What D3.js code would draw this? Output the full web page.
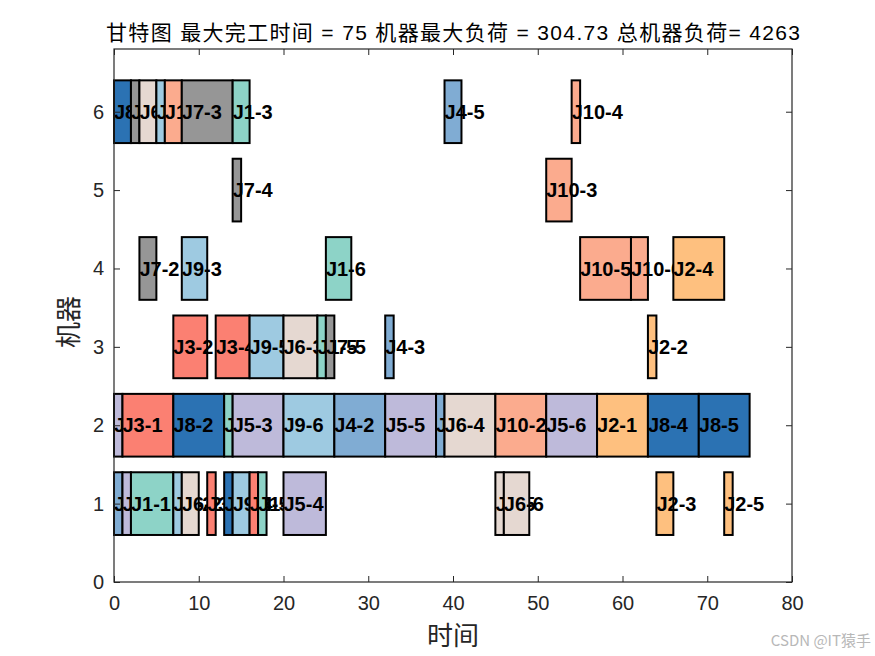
<!DOCTYPE html>
<html>
<head>
<meta charset="utf-8">
<script src="https://cdn.jsdelivr.net/npm/d3@7"></script>
<style>
  body { margin: 0; background: #fff; }
</style>
</head>
<body>
<div id="chart"></div>
<script>
// operations: name, machine, start, end
var opNames = ["J1-1","J1-2","J1-3","J1-4","J1-5","J1-6",
  "J2-1","J2-2","J2-3","J2-4","J2-5",
  "J3-1","J3-2","J3-3","J3-4","J3-5",
  "J4-1","J4-2","J4-3","J4-4","J4-5",
  "J5-1","J5-2","J5-3","J5-4","J5-5","J5-6",
  "J6-1","J6-2","J6-3","J6-4","J6-5","J6-6",
  "J7-1","J7-2","J7-3","J7-4","J7-5",
  "J8-1","J8-2","J8-3","J8-4","J8-5",
  "J9-1","J9-2","J9-3","J9-4","J9-5","J9-6",
  "J10-1","J10-2","J10-3","J10-4","J10-5","J10-6"];
var opMachines = [1,2,6,1,3,4, 2,3,1,4,1, 2,3,1,3,1, 1,2,3,2,6, 2,1,2,1,2,2,
  6,1,3,2,1,1, 6,4,6,5,3, 6,2,1,2,2, 6,1,4,1,3,2, 6,2,5,6,4,4];
var opStarts = [2,13,14,17,24,25, 57,63,64,66,72, 1,7,11,12,16, 0,26,32,38,39,
  0,1,14,20,32,51, 3,8,20,39,45,46, 2,3,8,14,25, 0,7,13,63,69,
  5,7,8,14,16,20, 6,45,51,54,55,61];
var opEnds = [7,14,16,18,25,28, 63,64,66,72,73, 7,11,12,16,17, 1,32,33,39,41,
  1,2,20,25,38,57, 5,10,24,45,46,49, 3,5,14,15,26, 2,13,14,69,75,
  6,8,11,16,20,26, 8,51,54,55,61,63];

var jobColors = ["#8dd3c7","#fec07f","#fb8072","#80acd3","#bebada",
  "#e5d8d1","#969696","#2b72b3","#9ecae1","#fbab8e"];

var xTicks = [0,10,20,30,40,50,60,70,80];
var yTicks = [0,1,2,3,4,5,6];

var titleText = "甘特图 最大完工时间 = 75 机器最大负荷 = 304.73 总机器负荷= 4263";

var svgWidth = 875, svgHeight = 656;
var margin = {top: 49, right: 83, bottom: 74, left: 114};
var width = svgWidth - margin.left - margin.right;
var height = svgHeight - margin.top - margin.bottom;

var svg = d3.select("#chart").append("svg")
  .attr("width", svgWidth)
  .attr("height", svgHeight);

var g = svg.append("g")
  .attr("transform", `translate(${margin.left}, ${margin.top})`);

var x = d3.scaleLinear().domain([0, 80]).range([0, width]);
var y = d3.scaleLinear().domain([0, 6.8]).range([height, 0]);

var ops = opNames.map(function(n, i) {
  return {name: n, job: +n.split("-")[0].slice(1), machine: opMachines[i],
    start: opStarts[i], end: opEnds[i]};
});
ops.sort(function(a, b) { return a.start - b.start; });

var barH = y(0) - y(0.8);
ops.forEach(function(d) {
  g.append("rect")
    .attr("x", x(d.start))
    .attr("y", y(d.machine + 0.4))
    .attr("width", x(d.end) - x(d.start))
    .attr("height", barH)
    .attr("fill", jobColors[d.job - 1])
    .attr("stroke", "#000")
    .attr("stroke-width", 2);
  g.append("text")
    .attr("x", x(d.start))
    .attr("y", y(d.machine))
    .attr("dy", "0.36em")
    .attr("font-family", "'Liberation Sans', Arial, sans-serif")
    .attr("font-weight", "bold")
    .attr("font-size", "20px")
    .attr("fill", "#000")
    .text(d.name);
});

// axes
function styleAxis(sel) {
  sel.select(".domain").remove();
  sel.selectAll("line").attr("stroke", "#262626");
  sel.selectAll("text").attr("fill", "#262626")
    .attr("font-family", "'Liberation Sans', Arial, sans-serif")
    .attr("font-size", "20px");
}

g.append("g").attr("transform", `translate(0, ${height})`)
  .call(d3.axisBottom(x).tickValues(xTicks).tickSizeInner(-6).tickSizeOuter(0).tickPadding(14))
  .call(styleAxis);
g.append("g")
  .call(d3.axisTop(x).tickValues(xTicks).tickSizeInner(-6).tickSizeOuter(0).tickFormat(""))
  .call(styleAxis);
g.append("g")
  .call(d3.axisLeft(y).tickValues(yTicks).tickFormat(d3.format("d")).tickSizeInner(-6).tickSizeOuter(0).tickPadding(10))
  .call(styleAxis);
g.append("g").attr("transform", `translate(${width}, 0)`)
  .call(d3.axisRight(y).tickValues(yTicks).tickSizeInner(-6).tickSizeOuter(0).tickFormat(""))
  .call(styleAxis);

g.append("rect")
  .attr("width", width).attr("height", height)
  .attr("fill", "none").attr("stroke", "#262626").attr("stroke-width", 1.2);

svg.append("text")
  .attr("x", 106)
  .attr("y", 40)
  .attr("textLength", 694)
  .attr("lengthAdjust", "spacing")
  .attr("font-family", "'Liberation Sans', 'Noto Sans CJK SC', sans-serif")
  .attr("font-size", "21px")
  .attr("fill", "#000")
  .text(titleText);

svg.append("text")
  .attr("x", margin.left + width / 2)
  .attr("y", 645)
  .attr("text-anchor", "middle")
  .attr("font-family", "'Noto Sans CJK SC', sans-serif")
  .attr("font-size", "26px")
  .attr("fill", "#262626")
  .text("时间");

svg.append("text")
  .attr("transform", "translate(78, 322) rotate(-90)")
  .attr("text-anchor", "middle")
  .attr("font-family", "'Noto Sans CJK SC', sans-serif")
  .attr("font-size", "26px")
  .attr("fill", "#262626")
  .text("机器");

svg.append("text")
  .attr("x", 871)
  .attr("y", 646)
  .attr("text-anchor", "end")
  .attr("font-family", "'Noto Sans CJK SC', sans-serif")
  .attr("font-size", "15px")
  .attr("fill", "#b8b8b8")
  .text("CSDN @IT猿手");
</script>
</body>
</html>
